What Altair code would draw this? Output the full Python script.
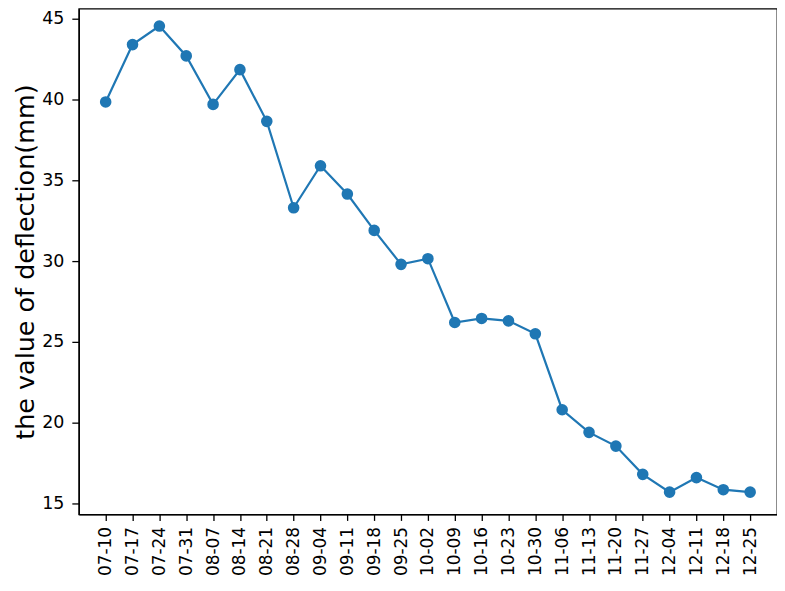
import altair as alt
import pandas as pd

dates = ["07-10", "07-17", "07-24", "07-31", "08-07", "08-14", "08-21", "08-28",
         "09-04", "09-11", "09-18", "09-25", "10-02", "10-09", "10-16", "10-23",
         "10-30", "11-06", "11-13", "11-20", "11-27", "12-04", "12-11", "12-18", "12-25"]
values = [39.85, 43.4, 44.55, 42.7, 39.7, 41.85, 38.65, 33.3,
          35.9, 34.15, 31.9, 29.8, 30.15, 26.2, 26.45, 26.3,
          25.5, 20.8, 19.4, 18.55, 16.8, 15.7, 16.6, 15.85, 15.7]
y_ticks = [15, 20, 25, 30, 35, 40, 45]

df = pd.DataFrame({"date": dates, "value": values})

FONT = "DejaVu Sans"
blue = "#1f77b4"

base = alt.Chart(df).encode(
    x=alt.X("date:N", sort=None,
            scale=alt.Scale(type="point", padding=1.19),
            axis=alt.Axis(title=None, labelAngle=270, labelFontSize=17,
                          labelPadding=6, tickSize=6, labelFont=FONT)),
    y=alt.Y("value:Q",
            scale=alt.Scale(domain=[14.32, 45.62], nice=False, zero=False),
            axis=alt.Axis(values=y_ticks, title="the value of deflection(mm)",
                          titleFontSize=25.5, titleFontWeight="normal", titleFont=FONT,
                          labelFontSize=17.5, labelFont=FONT, labelPadding=8,
                          tickSize=7, titlePadding=3, grid=False)),
)

line = base.mark_line(color=blue, strokeWidth=2.2)
pts = base.mark_circle(color=blue, size=135, opacity=1)

chart = (line + pts).properties(
    width=700, height=507,
    autosize="none",
    padding={"left": 71, "top": 0, "right": 0, "bottom": 64},
).configure_axis(
    domainColor="black", tickColor="black", labelColor="black", titleColor="black",
    grid=False, domainWidth=1.3, tickWidth=1.3,
).configure_view(stroke="black", strokeWidth=1.3)

chart.save("out.html", embed_options={"renderer": "svg", "actions": False})
